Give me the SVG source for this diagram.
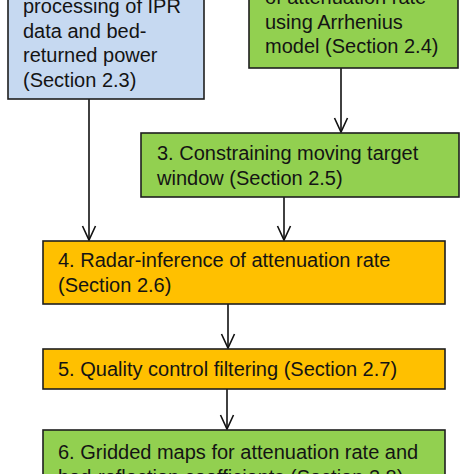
<svg xmlns="http://www.w3.org/2000/svg" width="474" height="474" viewBox="0 0 474 474">
  <style>
    .box { stroke: #1e1e1e; stroke-width: 1.6; }
    .blue { fill: #c6d9f1; }
    .green { fill: #92d050; }
    .orange { fill: #ffc000; }
    .lbl { font-family: "Liberation Sans", Arial, sans-serif; font-size: 20px; fill: #141414; }
    .conn { stroke: #111; stroke-width: 1.6; fill: none; }
  </style>
  <defs>
    <!-- open V arrowhead, drawn in user-space units -->
    <marker id="arrow" markerUnits="userSpaceOnUse" markerWidth="18" markerHeight="18" viewBox="-16 -9 18 18" refX="0" refY="0" orient="auto">
      <path d="M -14 -6.5 L 0 0 L -14 6.5" fill="none" stroke="#111" stroke-width="1.6"/>
    </marker>
  </defs>
  <rect width="474" height="474" fill="#ffffff"/>

  <g id="connectors">
    <line class="conn" x1="89" y1="99" x2="89" y2="240" marker-end="url(#arrow)"/>
    <line class="conn" x1="341" y1="68" x2="341" y2="132" marker-end="url(#arrow)"/>
    <line class="conn" x1="284" y1="197" x2="284" y2="240" marker-end="url(#arrow)"/>
    <line class="conn" x1="228" y1="304" x2="228" y2="348" marker-end="url(#arrow)"/>
    <line class="conn" x1="227" y1="389" x2="227" y2="429" marker-end="url(#arrow)"/>
  </g>

  <g id="node1">
    <rect class="box blue" x="8" y="-60" width="196" height="159"/>
    <text class="lbl" x="23" y="13">processing of IPR</text>
    <text class="lbl" x="23" y="37.5">data and bed-</text>
    <text class="lbl" x="23" y="62">returned power</text>
    <text class="lbl" x="23" y="86.5">(Section 2.3)</text>
  </g>

  <g id="node2">
    <rect class="box green" x="249" y="-60" width="209" height="128"/>
    <text class="lbl" x="265" y="4">of attenuation rate</text>
    <text class="lbl" x="265" y="28.5">using Arrhenius</text>
    <text class="lbl" x="265" y="53">model (Section 2.4)</text>
  </g>

  <g id="node3">
    <rect class="box green" x="141" y="133" width="318" height="64"/>
    <text class="lbl" x="157" y="160">3. Constraining moving target</text>
    <text class="lbl" x="157" y="184.5">window (Section 2.5)</text>
  </g>

  <g id="node4">
    <rect class="box orange" x="43" y="241" width="402" height="63"/>
    <text class="lbl" x="58" y="267">4. Radar-inference of attenuation rate</text>
    <text class="lbl" x="58" y="292">(Section 2.6)</text>
  </g>

  <g id="node5">
    <rect class="box orange" x="43" y="349" width="402" height="40"/>
    <text class="lbl" x="58" y="376">5. Quality control filtering (Section 2.7)</text>
  </g>

  <g id="node6">
    <rect class="box green" x="43" y="430" width="402" height="80"/>
    <text class="lbl" x="58" y="459">6. Gridded maps for attenuation rate and</text>
    <text class="lbl" x="58" y="484">bed-reflection coefficients (Section 2.8)</text>
  </g>
</svg>
